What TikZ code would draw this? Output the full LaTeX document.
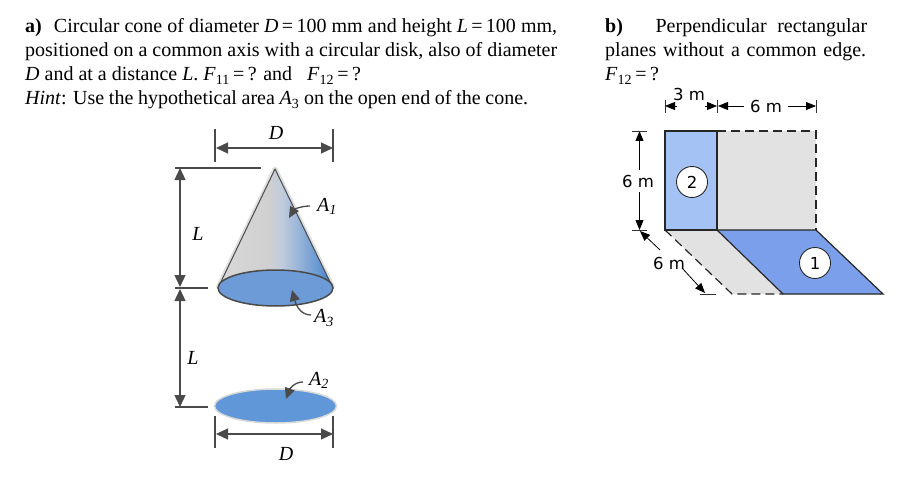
\documentclass[tikz,border=0pt]{standalone}
\usepackage{fontspec}
\setmainfont{Liberation Serif}
\newfontfamily\labelfont{DejaVu Sans}
\usetikzlibrary{arrows.meta}
\definecolor{planeblue}{HTML}{7B9FEB}
\definecolor{lightblue}{HTML}{A4C2F4}
\definecolor{planegrey}{HTML}{E2E2E2}
\definecolor{diskblue}{HTML}{5F97D8}
\definecolor{baseblue}{HTML}{6C9BD8}
\definecolor{dimgrey}{HTML}{4A4A4A}
\definecolor{coneA}{HTML}{D8D8D8}
\definecolor{coneB}{HTML}{D0D0D0}
\definecolor{coneC}{HTML}{BFCBDC}
\definecolor{coneD}{HTML}{5F93D2}
\definecolor{coneE}{HTML}{3F7CC4}
\pgfdeclarehorizontalshading{conefill}{100bp}{color(0bp)=(coneA); color(25bp)=(coneA); color(47bp)=(coneB); color(53bp)=(coneC); color(70bp)=(coneD); color(75bp)=(coneE); color(100bp)=(coneE)}
\tikzset{
	textline/.style={anchor=base west, inner sep=0pt, font=\fontsize{20}{24}\selectfont},
	mathlabel/.style={inner sep=0pt, font=\fontsize{20}{24}\selectfont\itshape},
	metrelabel/.style={inner sep=0pt, font=\fontsize{16.5}{20}\selectfont\labelfont},
	dimline/.style={dimgrey, line width=1.1pt},
	dimarrow/.style={dimgrey, line width=1.2pt, {Triangle[length=12pt,width=11pt]}-{Triangle[length=12pt,width=11pt]}},
	curvearrow/.style={dimgrey, line width=1.3pt, -{Triangle[length=11pt,width=10pt]}},
	thinline/.style={black!80, line width=0.7pt},
	thinarrow/.style={black, line width=0.8pt, -{Triangle[length=10pt,width=8pt]}},
	edgeline/.style={black!85, line width=1.2pt},
	planenum/.style={draw=black!85, fill=white, circle, line width=0.9pt, minimum size=31pt, inner sep=0pt, font=\fontsize{16.5}{20}\selectfont\labelfont}
}
\begin{document}
\begin{tikzpicture}[x=1pt,y=-1pt]
	\useasboundingbox (0,0) rectangle (905,500);
	\node[textline] (line1) at (25,33) {\makebox[532pt][s]{\textbf{a)}\hspace{7pt} Circular cone of diameter \textit{D}\,=\,100 mm and height \textit{L}\,=\,100 mm,}};
	\node[textline] (line2) at (25,57) {\makebox[532pt][s]{positioned on a common axis with a circular disk, also of diameter}};
	\node[textline] (line3) at (25,81) {\textit{D} and at a distance \textit{L}. \textit{F}\textsubscript{11}\,=\,? and\ \ \ \textit{F}\textsubscript{12}\,=\,?};
	\node[textline] (line4) at (25,105) {\makebox[503pt][s]{\textit{Hint}: Use the hypothetical area \textit{A}\textsubscript{3} on the open end of the cone.}};
	\node[textline] (bline1) at (605,33) {\makebox[262pt][s]{\textbf{b)}\hspace{22pt} Perpendicular rectangular}};
	\node[textline] (bline2) at (605,57) {\makebox[261pt][s]{planes without a common edge.}};
	\node[textline] (bline3) at (605,81) {\textit{F}\textsubscript{12}\,=\,?};

	\coordinate (apex) at (275,169);
	\coordinate (baseL) at (218,288);
	\coordinate (baseR) at (333,288);
	\coordinate (baseC) at (275.5,288);
	\coordinate (diskC) at (275.5,406);
	\draw[black!25, line width=5pt, opacity=0.5, line join=round] (baseL) -- (apex) -- (baseR);
	\shade[shading=conefill] (baseL) -- (apex) -- (baseR) -- cycle;
	\draw[dimgrey, line width=1pt, line join=round] (baseL) -- (apex) -- (baseR);
	\draw[dimgrey, fill=baseblue, line width=1.5pt] (baseC) ellipse (57.5 and 18);
	\draw[black!15, fill=diskblue, line width=1.5pt] (diskC) ellipse (61 and 17);

	\coordinate (topTickLa) at (215,129);
	\coordinate (topTickLb) at (215,162);
	\coordinate (topTickRa) at (333,129);
	\coordinate (topTickRb) at (333,162);
	\coordinate (topArrowL) at (216,148);
	\coordinate (topArrowR) at (333,148);
	\draw[dimline] (topTickLa) -- (topTickLb);
	\draw[dimline] (topTickRa) -- (topTickRb);
	\draw[dimarrow] (topArrowL) -- (topArrowR);
	\node[mathlabel] (topD) at (276,133) {D};

	\coordinate (hTopA) at (175,168);
	\coordinate (hTopB) at (261,168);
	\coordinate (hMidA) at (175,288);
	\coordinate (hMidB) at (208,288);
	\coordinate (hBotA) at (175,407);
	\coordinate (hBotB) at (208,407);
	\coordinate (vTop) at (180,168);
	\coordinate (vMid) at (180,287);
	\coordinate (vMidB) at (180,289);
	\coordinate (vBot) at (180,407);
	\draw[dimline] (hTopA) -- (hTopB);
	\draw[dimline] (hMidA) -- (hMidB);
	\draw[dimline] (hBotA) -- (hBotB);
	\draw[dimarrow] (vTop) -- (vMid);
	\draw[dimarrow] (vMidB) -- (vBot);
	\node[mathlabel] (upperL) at (198,234) {L};
	\node[mathlabel] (lowerL) at (193,358) {L};

	\coordinate (botTickLa) at (215,416);
	\coordinate (botTickLb) at (215,448);
	\coordinate (botTickRa) at (333,416);
	\coordinate (botTickRb) at (333,448);
	\coordinate (botArrowL) at (216,434);
	\coordinate (botArrowR) at (333,434);
	\draw[dimline] (botTickLa) -- (botTickLb);
	\draw[dimline] (botTickRa) -- (botTickRb);
	\draw[dimarrow] (botArrowL) -- (botArrowR);
	\node[mathlabel] (botD) at (286,454) {D};

	\node[mathlabel] (areaA) at (327,206) {A\textsubscript{1}};
	\node[mathlabel] (areaC) at (324,318) {A\textsubscript{3}};
	\node[mathlabel] (areaB) at (319,380) {A\textsubscript{2}};
	\coordinate (tailA) at (310,206);
	\coordinate (tailC) at (311,315);
	\coordinate (tailB) at (303,382);
	\coordinate (tipA) at (289,218);
	\coordinate (tipC) at (292,290);
	\coordinate (tipB) at (286,399);
	\draw[curvearrow] (tailA) to[out=180,in=60] (tipA);
	\draw[curvearrow] (tailC) to[out=180,in=-75] (tipC);
	\draw[curvearrow] (tailB) to[out=180,in=70] (tipB);

	\coordinate (rTL) at (665,131);
	\coordinate (rTM) at (717,131);
	\coordinate (rTR) at (816,131);
	\coordinate (rBL) at (665,230);
	\coordinate (rBM) at (717,230);
	\coordinate (rBR) at (816,230);
	\coordinate (fL) at (732,294);
	\coordinate (fM) at (783,294);
	\coordinate (fR) at (883,294);
	\fill[planegrey] (rTM) -- (rTR) -- (rBR) -- (rBM) -- cycle;
	\fill[planegrey] (rBL) -- (rBM) -- (fM) -- (fL) -- cycle;
	\draw[edgeline, fill=lightblue] (rBL) -- (rTL) -- (rTM) -- (rBM) -- cycle;
	\draw[edgeline, fill=planeblue] (rBM) -- (rBR) -- (fR) -- (fM) -- cycle;
	\draw[edgeline, dash pattern=on 9pt off 5pt] (rTM) -- (rTR) -- (rBR);
	\draw[edgeline, dash pattern=on 9pt off 5pt] (rBL) -- (fL) -- (fM);
	\node[planenum] (planeTwo) at (692,182) {2};
	\node[planenum] (planeOne) at (815,263) {1};

	\coordinate (tickAa) at (665,100);
	\coordinate (tickAb) at (665,113);
	\coordinate (tickBa) at (717,100);
	\coordinate (tickBb) at (717,113);
	\coordinate (tickCa) at (816,100);
	\coordinate (tickCb) at (816,113);
	\draw[thinline] (tickAa) -- (tickAb);
	\draw[thinline] (tickBa) -- (tickBb);
	\draw[thinline] (tickCa) -- (tickCb);
	\node[metrelabel] (threeM) at (689,94) {3 m};
	\node[metrelabel, inner xsep=6pt] (sixTop) at (766,106) {6 m};
	\coordinate (aTail) at (677,106);
	\coordinate (aTip) at (665,106);
	\coordinate (bTail) at (705,106);
	\coordinate (bTip) at (717,106);
	\coordinate (cTip) at (718,106);
	\coordinate (dTip) at (816,106);
	\draw[thinarrow] (aTail) -- (aTip);
	\draw[thinarrow] (bTail) -- (bTip);
	\draw[thinarrow] (sixTop.west) -- (cTip);
	\draw[thinarrow] (sixTop.east) -- (dTip);

	\coordinate (sideTopA) at (632,131);
	\coordinate (sideTopB) at (647,131);
	\coordinate (sideBotA) at (632,230);
	\coordinate (sideBotB) at (647,230);
	\draw[thinline] (sideTopA) -- (sideTopB);
	\draw[thinline] (sideBotA) -- (sideBotB);
	\node[metrelabel, inner ysep=5pt] (sixSide) at (638,181) {6 m};
	\coordinate (sideUp) at (639.5,131);
	\coordinate (sideDown) at (639.5,230);
	\draw[thinarrow] (sixSide.north -| sideUp) -- (sideUp);
	\draw[thinarrow] (sixSide.south -| sideDown) -- (sideDown);

	\node[metrelabel] (sixDiag) at (669,263) {6 m};
	\coordinate (diagTailA) at (660,250);
	\coordinate (diagTipA) at (640,231);
	\coordinate (diagTailB) at (682,268);
	\coordinate (diagTipB) at (705,293);
	\coordinate (footA) at (700,294);
	\coordinate (footB) at (716,294);
	\draw[thinarrow] (diagTailA) -- (diagTipA);
	\draw[thinarrow] (diagTailB) -- (diagTipB);
	\draw[thinline] (footA) -- (footB);
\end{tikzpicture}
\end{document}
